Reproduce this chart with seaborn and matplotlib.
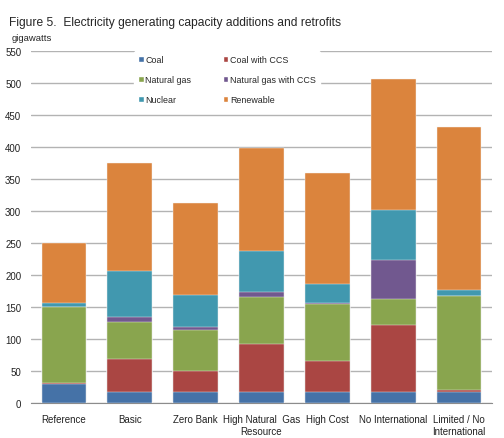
import numpy as np
import pandas as pd
import seaborn as sns
import matplotlib.pyplot as plt
from matplotlib.patches import Patch
from matplotlib import font_manager

scenarios = ["Reference", "Basic", "Zero Bank", "High Natural  Gas\nResource",
             "High Cost", "No International", "Limited / No\nInternational"]
coal = [29, 17, 17, 17, 17, 17, 17]
coal_ccs = [2, 51, 33, 75, 48, 105, 3]
nat_gas = [119, 59, 64, 74, 89, 40, 147]
nat_gas_ccs = [0, 8, 4, 8, 2, 61, 0]
nuclear = [7, 72, 51, 63, 30, 78, 9]
renewable = [93, 168, 143, 161, 174, 205, 256]

series = ["Coal", "Coal with CCS", "Natural gas", "Natural gas with CCS", "Nuclear", "Renewable"]
colors = ["#4572A7", "#AA4643", "#89A54E", "#71588F", "#4198AF", "#DB843D"]

df = pd.DataFrame({"scenario": scenarios, "Coal": coal, "Coal with CCS": coal_ccs,
                   "Natural gas": nat_gas, "Natural gas with CCS": nat_gas_ccs,
                   "Nuclear": nuclear, "Renewable": renewable})
cum = df[series].cumsum(axis=1)

names = {f.name for f in font_manager.fontManager.ttflist}
narrow = "Liberation Sans Narrow" in names

sns.set_style("white")
plt.rcParams["font.family"] = ["Liberation Sans Narrow" if narrow else "Liberation Sans", "DejaVu Sans"]
k = 1.0 if narrow else 0.85

fig = plt.figure(figsize=(5.04, 4.39), dpi=100)
ax = fig.add_axes([0.0615, 0.0797, 0.9145, 0.8018])

# stack by overlaying cumulative totals, tallest first
for name, col in zip(series[::-1], colors[::-1]):
    sns.barplot(x=df["scenario"], y=cum[name], color=col, width=0.68,
                edgecolor="#f4f4f4", linewidth=0.3, saturation=1, ax=ax, zorder=3)

ax.set_ylim(0, 550)
ax.set_yticks(np.arange(0, 551, 50))
ax.yaxis.grid(True, color="#b3b3b3", linewidth=1, zorder=0)
ax.set_axisbelow(True)
ax.set_xlabel("")
ax.set_ylabel("")
for s in ["top", "right", "left"]:
    ax.spines[s].set_visible(False)
ax.spines["bottom"].set_color("#8c8c8c")
ax.tick_params(axis="both", labelsize=8.3 * k, length=0, colors="#222222")
ax.tick_params(axis="x", pad=8)
ax.tick_params(axis="y", pad=7)

order = [0, 2, 4, 1, 3, 5]
handles = [Patch(facecolor=colors[i], label=series[i]) for i in order]
leg = ax.legend(handles=handles, ncol=2, loc="upper left", bbox_to_anchor=(0.224, 1.0),
                fontsize=7.5 * k, frameon=True, facecolor="white", edgecolor="white",
                framealpha=1, handlelength=0.6, handleheight=0.6, handletextpad=0.2,
                labelspacing=1.25, columnspacing=3.6, borderaxespad=0, borderpad=0.45)
leg.set_zorder(5)

fig.text(0.018, 0.947, "Figure 5.  Electricity generating capacity additions and retrofits",
         fontsize=10.2 * k, va="center", ha="left")
fig.text(0.024, 0.913, "gigawatts", fontsize=8.0 * k, va="center", ha="left")

fig.savefig("out.png", dpi=100)
